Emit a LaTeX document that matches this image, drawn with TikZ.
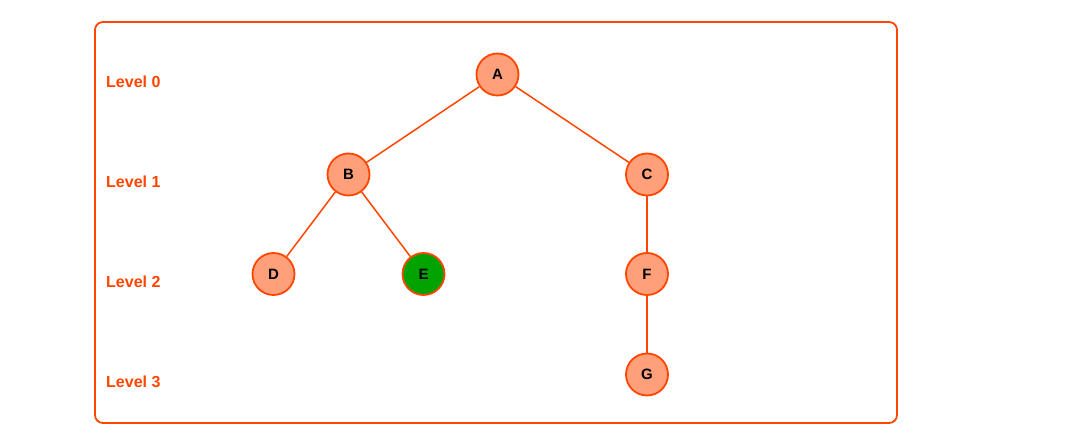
\documentclass[tikz,border=0pt]{standalone}
\usepackage{fontspec}
\setmainfont{Liberation Sans}
\usepackage{tikz}
\usetikzlibrary{positioning}
\definecolor{treeline}{HTML}{FF4500}
\definecolor{treefill}{HTML}{FFA07A}
\definecolor{goalfill}{HTML}{00A300}

\begin{document}
\begin{tikzpicture}[
  x=1pt, y=-1pt,
  vertex/.style={circle, draw=treeline, line width=1.8pt, fill=#1, minimum size=42pt, inner sep=0pt, font=\fontsize{15}{17}\selectfont\bfseries},
  vertex/.default=treefill,
  level/.style={anchor=west, text=treeline, font=\fontsize{16}{19}\selectfont\bfseries, inner sep=0pt},
  edge/.style={draw=treeline, line width=1.5pt},
]
  \useasboundingbox (0,0) rectangle (1069,435);

  % Frame
  \draw[treeline, line width=1.8pt, rounded corners=8pt] (95,22) rectangle (897,423);

  % Level labels
  \node[level] (l0) at (106,82) {Level 0};
  \node[level] (l1) at (106,182) {Level 1};
  \node[level] (l2) at (106,282) {Level 2};
  \node[level] (l3) at (106,382) {Level 3};

  % Tree nodes
  \node[vertex] (A) at (497.5,74.5) {A};
  \node[vertex] (B) at (348.5,174.5) {B};
  \node[vertex] (C) at (647,174.5) {C};
  \node[vertex] (D) at (273.5,274) {D};
  \node[vertex=goalfill] (E) at (423.5,274) {E};
  \node[vertex] (F) at (647,274) {F};
  \node[vertex] (G) at (647,374.5) {G};

  % Edges
  \draw[edge] (A) -- (B);
  \draw[edge] (A) -- (C);
  \draw[edge] (B) -- (D);
  \draw[edge] (B) -- (E);
  \draw[edge] (C) -- (F);
  \draw[edge] (F) -- (G);
\end{tikzpicture}
\end{document}
